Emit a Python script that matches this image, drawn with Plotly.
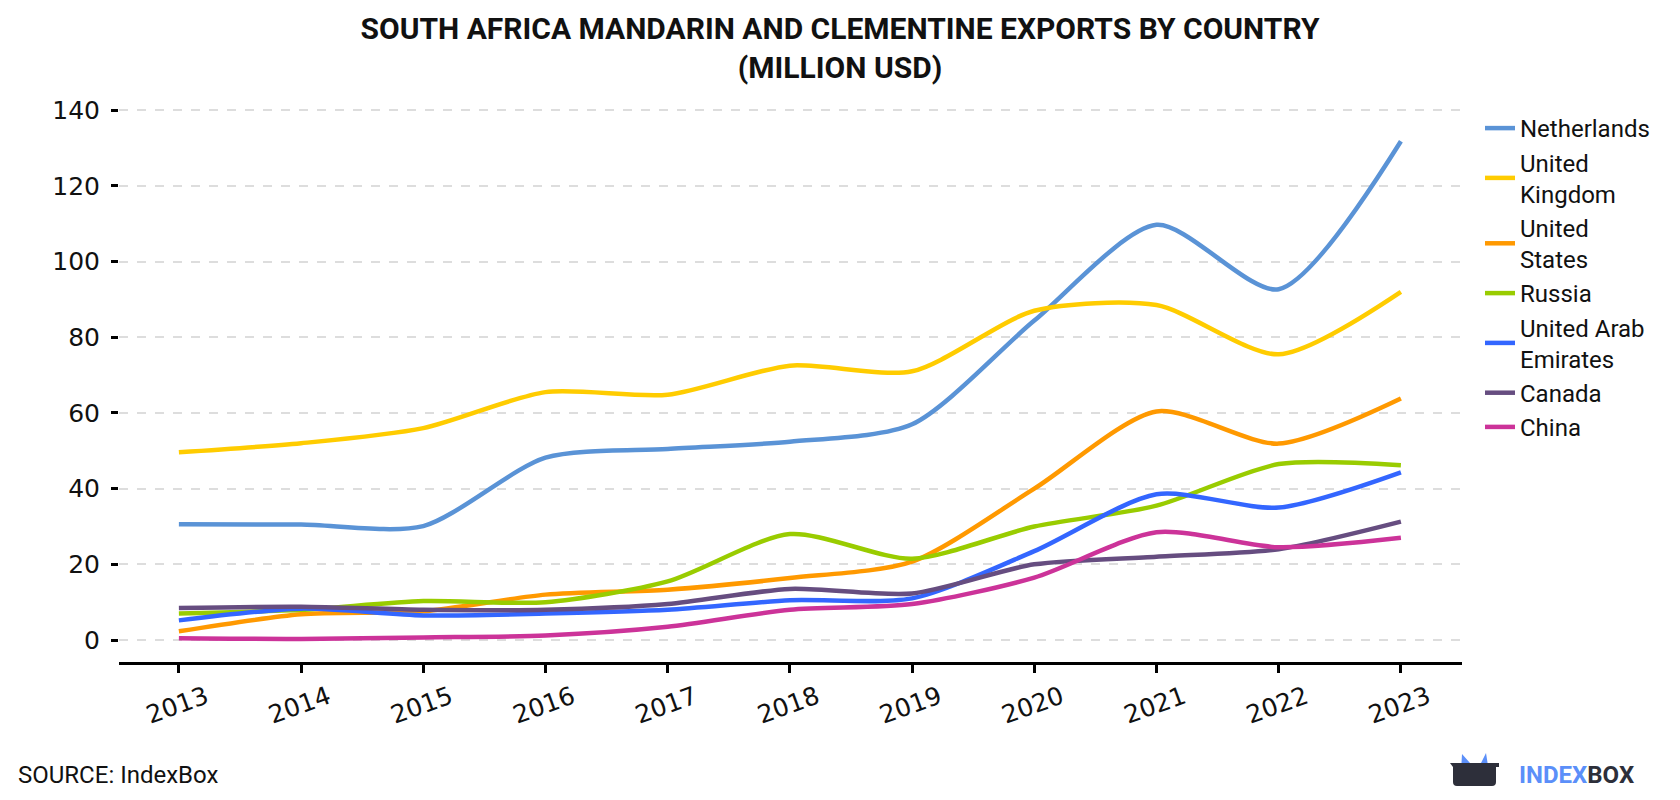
import plotly.graph_objects as go

years = [2013, 2014, 2015, 2016, 2017, 2018, 2019, 2020, 2021, 2022, 2023]
year_labels = [str(y) for y in years]
y_ticks = [0, 20, 40, 60, 80, 100, 120, 140]

netherlands = [30.6, 30.5, 30.1, 48.2, 50.5, 52.4, 57.0, 84.4, 109.7, 92.7, 131.8]
united_kingdom = [49.6, 52.0, 56.0, 65.5, 64.8, 72.5, 71.0, 87.0, 88.5, 75.5, 92.0]
united_states = [2.3, 6.8, 7.6, 12.0, 13.3, 16.4, 20.7, 40.0, 60.4, 51.9, 63.8]
russia = [7.0, 8.0, 10.3, 10.0, 15.5, 28.0, 21.5, 30.0, 35.5, 46.5, 46.2]
uae = [5.2, 8.3, 6.5, 7.0, 8.0, 10.5, 11.0, 23.5, 38.5, 35.0, 44.3]
canada = [8.5, 8.8, 8.0, 8.0, 9.5, 13.5, 12.3, 20.0, 22.0, 24.0, 31.3]
china = [0.5, 0.3, 0.7, 1.2, 3.5, 8.0, 9.5, 16.5, 28.5, 24.5, 27.0]

series = [
    ("Netherlands", netherlands, "#5a93d6"),
    ("United<br>Kingdom", united_kingdom, "#ffcc00"),
    ("United<br>States", united_states, "#ff9900"),
    ("Russia", russia, "#99cc00"),
    ("United Arab<br>Emirates", uae, "#3366ff"),
    ("Canada", canada, "#664d80"),
    ("China", china, "#cc3399"),
]

W, H = 1680, 800
ML, MR, MT, MB = 119, 218, 92, 138
PW, PH = W - ML - MR, H - MT - MB


def px(x):
    return (x - ML) / PW


def py(y):
    return (H - MB - y) / PH


fig = go.Figure()
for name, vals, color in series:
    fig.add_trace(go.Scatter(
        x=years, y=vals, name=name, mode="lines",
        line=dict(color=color, width=4.5, shape="spline", smoothing=0.75),
    ))

tick_font = dict(family="DejaVu Sans", size=25, color="#111111")

fig.update_layout(
    width=W, height=H,
    margin=dict(l=ML, r=MR, t=MT, b=MB),
    paper_bgcolor="white", plot_bgcolor="white",
    title=dict(
        text="<b>SOUTH AFRICA MANDARIN AND CLEMENTINE EXPORTS BY COUNTRY<br>(MILLION USD)</b>",
        font=dict(family="Roboto", size=30, color="#111111"),
        x=0.5, xref="container", xanchor="center",
        y=1 - 39 / H, yref="container", yanchor="middle",
    ),
    xaxis=dict(
        range=[2012.51, 2023.5], tickvals=years, ticktext=year_labels,
        tickangle=-20, tickfont=tick_font, ticklabelshift=27,
        showline=True, linecolor="#000000", linewidth=3,
        ticks="outside", ticklen=8, tickwidth=2.5, tickcolor="#000000",
        showgrid=False, zeroline=False,
    ),
    yaxis=dict(
        range=[-5.8, 144.8], tickvals=y_ticks, tickfont=tick_font,
        ticks="outside", ticklen=7, tickwidth=2.5, tickcolor="#000000",
        ticklabelstandoff=6,
        showgrid=True, gridcolor="#dddddd", gridwidth=2, griddash="dash",
        showline=False, zeroline=False,
    ),
    legend=dict(
        xref="container", yref="container",
        x=1480 / W, y=1 - 106 / H, xanchor="left", yanchor="top",
        font=dict(family="Roboto", size=24, color="#111111"),
        bgcolor="rgba(0,0,0,0)", tracegroupgap=0, itemwidth=30,
    ),
    showlegend=True,
)

fig.add_annotation(
    text="SOURCE: IndexBox", xref="paper", yref="paper",
    x=px(16), y=py(775), xanchor="left", yanchor="middle",
    showarrow=False, font=dict(family="Roboto", size=24, color="#111111"),
)
fig.add_annotation(
    text="<b><span style='color:#5b8ff9'>INDEX</span><span style='color:#2d2f3a'>BOX</span></b>",
    xref="paper", yref="paper",
    x=px(1517), y=py(775), xanchor="left", yanchor="middle",
    showarrow=False, font=dict(family="Roboto", size=24, color="#2d2f3a"),
)

# logo icon
blue_path = "M {},{} L {},{} L {},{} L {},{} L {},{} L {},{} Z".format(
    px(1462), py(754), px(1470), py(763), px(1481), py(763),
    px(1486), py(753), px(1489), py(772), px(1461), py(772))
dark_path = "M {},{} L {},{} L {},{} L {},{} L {},{} Q {},{} {},{} L {},{} Q {},{} {},{} L {},{} Z".format(
    px(1450), py(763), px(1499), py(763), px(1499), py(767), px(1496), py(767),
    px(1496), py(782), px(1496), py(786), px(1492), py(786),
    px(1457), py(786), px(1453), py(786), px(1453), py(782),
    px(1453), py(767))
fig.add_shape(type="path", path=blue_path, xref="paper", yref="paper",
              fillcolor="#5b8ff9", line=dict(width=0), layer="above")
fig.add_shape(type="path", path=dark_path, xref="paper", yref="paper",
              fillcolor="#2d2f3a", line=dict(width=0), layer="above")

fig.write_html("out.html")
